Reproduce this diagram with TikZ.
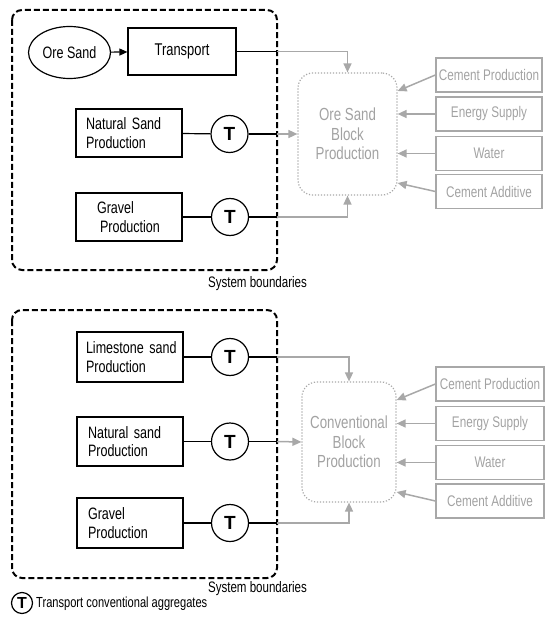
\documentclass[tikz,border=0pt]{standalone}
\usepackage{fontspec}
\setmainfont{Liberation Sans}[FakeStretch=0.76]
\newfontfamily\tfont{Liberation Sans}
\usetikzlibrary{arrows.meta,shapes.geometric,positioning}
\definecolor{gry}{HTML}{A8A8A8}
\definecolor{gtxt}{HTML}{A2A2A2}
\begin{document}
\begin{tikzpicture}[x=1pt,y=1pt,
  boxstyle/.style={draw=black, line width=1.2pt, minimum width=106pt, minimum height=48pt, inner ysep=0pt,
    font=\fontsize{16.5}{18.5}\selectfont},
  lbox/.style={boxstyle, align=left, text width=92pt, inner xsep=7pt},
  tcirc/.style={draw=black, line width=1.2pt, circle, minimum size=37pt, inner sep=0pt,
    font=\tfont\bfseries\fontsize{19}{19}\selectfont},
  bound/.style={draw=black, line width=2pt, dash pattern=on 6pt off 3pt, rounded corners=10pt},
  blockstyle/.style={draw=gry, line width=1.2pt, dash pattern=on 1.2pt off 1.8pt, rounded corners=15pt,
    text=gtxt, align=center, inner sep=0pt, font=\fontsize{17.5}{19.5}\selectfont},
  rbox/.style={draw=gry, line width=1.3pt, minimum width=106pt, minimum height=34pt, inner sep=0pt,
    text=gtxt, font=\fontsize{15.4}{17}\selectfont},
  blk/.style={draw=black, line width=1.2pt},
  garrow/.style={draw=gry, line width=1.5pt, -{Triangle[length=9pt,width=8pt]}},
  sblabel/.style={font=\fontsize{15.2}{17}\selectfont, inner sep=0pt}
]
\useasboundingbox (0,0) rectangle (550,-620);

% ---------------- top panel ----------------
\draw[bound] (12,-10) rectangle (277,-270);
\node[sblabel] (sbA) at (257.5,-284) {System boundaries};

\node[draw=black, line width=1.2pt, ellipse, minimum width=82pt, minimum height=52pt, inner sep=0pt,
  font=\fontsize{16.5}{18.5}\selectfont] (ore) at (69.5,-52.5) {Ore Sand};
\node[boxstyle, minimum height=47pt, minimum width=108pt, font=\fontsize{17}{19}\selectfont] (trans) at (182,-51.5) {Transport};
\node[lbox] (nsA) at (129,-133) {\hspace*{3pt}Natural Sand\\\hspace*{3pt}Production};
\node[tcirc] (tA1) at (229.5,-134) {T};
\node[lbox] (grA) at (129,-217) {\hspace*{14pt}Gravel\\\hspace*{17pt}Production};
\node[tcirc] (tA2) at (230,-217) {T};

\node[blockstyle, minimum width=99pt, minimum height=122pt] (blockA) at (347.5,-134) {Ore Sand\\Block\\Production};

\node[rbox] (cpA) at (489,-75) {Cement Production};
\node[rbox] (esA) at (489,-114) {Energy Supply};
\node[rbox] (wA) at (489,-153.5) {Water};
\node[rbox] (caA) at (489,-191.5) {Cement Additive};

\draw[blk, -{Triangle[length=8pt,width=7pt]}] (ore) -- (trans);
\draw[blk] (nsA) -- (tA1);
\draw[blk] (grA) -- (tA2);

\coordinate (xA1) at (277,-51.5);
\coordinate (xA2) at (277,-134);
\coordinate (xA3) at (277,-217);
\draw[blk] (trans.east) -- (xA1);
\draw[blk] (tA1.east) -- (xA2);
\draw[blk] (tA2.east) -- (xA3);
\draw[garrow] (xA1) -| (blockA.north);
\draw[garrow] (xA2) -- (blockA.west);
\draw[garrow] (xA3) -| (blockA.south);

\draw[garrow] (cpA.west) -- (blockA.east |- 0,-91);
\draw[garrow] (esA.west) -- (blockA.east |- esA.west);
\draw[garrow] (wA.west) -- (blockA.east |- wA.west);
\draw[garrow] (caA.west) -- (blockA.east |- 0,-183);

% ---------------- bottom panel ----------------
\draw[bound] (12,-310) rectangle (277,-578);
\node[sblabel] (sbB) at (257.5,-589) {System boundaries};

\node[lbox, minimum height=50pt] (lsB) at (130,-357) {\hspace*{2pt}\mbox{Limestone sand}\\\hspace*{2pt}Production};
\node[tcirc] (tB1) at (230,-357) {T};
\node[lbox, minimum height=49pt] (nsB) at (130,-441.5) {\hspace*{4pt}Natural sand\\\hspace*{4pt}Production};
\node[tcirc] (tB2) at (230,-441.5) {T};
\node[lbox, minimum height=50pt] (grB) at (130,-523) {\hspace*{4pt}Gravel\\\hspace*{4pt}Production};
\node[tcirc] (tB3) at (230,-523) {T};

\node[blockstyle, minimum width=94pt, minimum height=120pt] (blockB) at (349,-442) {Conventional\\Block\\Production};

\node[rbox, minimum width=108pt] (cpB) at (490,-384) {Cement Production};
\node[rbox, minimum width=108pt] (esB) at (490,-423.5) {Energy Supply};
\node[rbox, minimum width=108pt] (wB) at (490,-462.5) {Water};
\node[rbox, minimum width=108pt] (caB) at (490,-501) {Cement Additive};

\draw[blk] (lsB) -- (tB1);
\draw[blk] (nsB) -- (tB2);
\draw[blk] (grB) -- (tB3);

\coordinate (xB1) at (277,-357);
\coordinate (xB2) at (277,-441.5);
\coordinate (xB3) at (277,-523);
\draw[blk] (tB1.east) -- (xB1);
\draw[blk] (tB2.east) -- (xB2);
\draw[blk] (tB3.east) -- (xB3);
\draw[garrow] (xB1) -| (blockB.north);
\draw[garrow] (xB2) -- (blockB.west);
\draw[garrow] (xB3) -| (blockB.south);

\draw[garrow] (cpB.west) -- (blockB.east |- 0,-400);
\draw[garrow] (esB.west) -- (blockB.east |- esB.west);
\draw[garrow] (wB.west) -- (blockB.east |- wB.west);
\draw[garrow] (caB.west) -- (blockB.east |- 0,-492);

% ---------------- legend ----------------
\node[draw=black, line width=1.2pt, circle, minimum size=21pt, inner sep=0pt,
  font=\tfont\bfseries\fontsize{16}{16}\selectfont] (legT) at (22,-603) {T};
\node[anchor=west, inner sep=0pt, font=\fontsize{14.6}{16}\selectfont] (legtxt) at (36,-604) {Transport conventional aggregates};
\end{tikzpicture}
\end{document}
